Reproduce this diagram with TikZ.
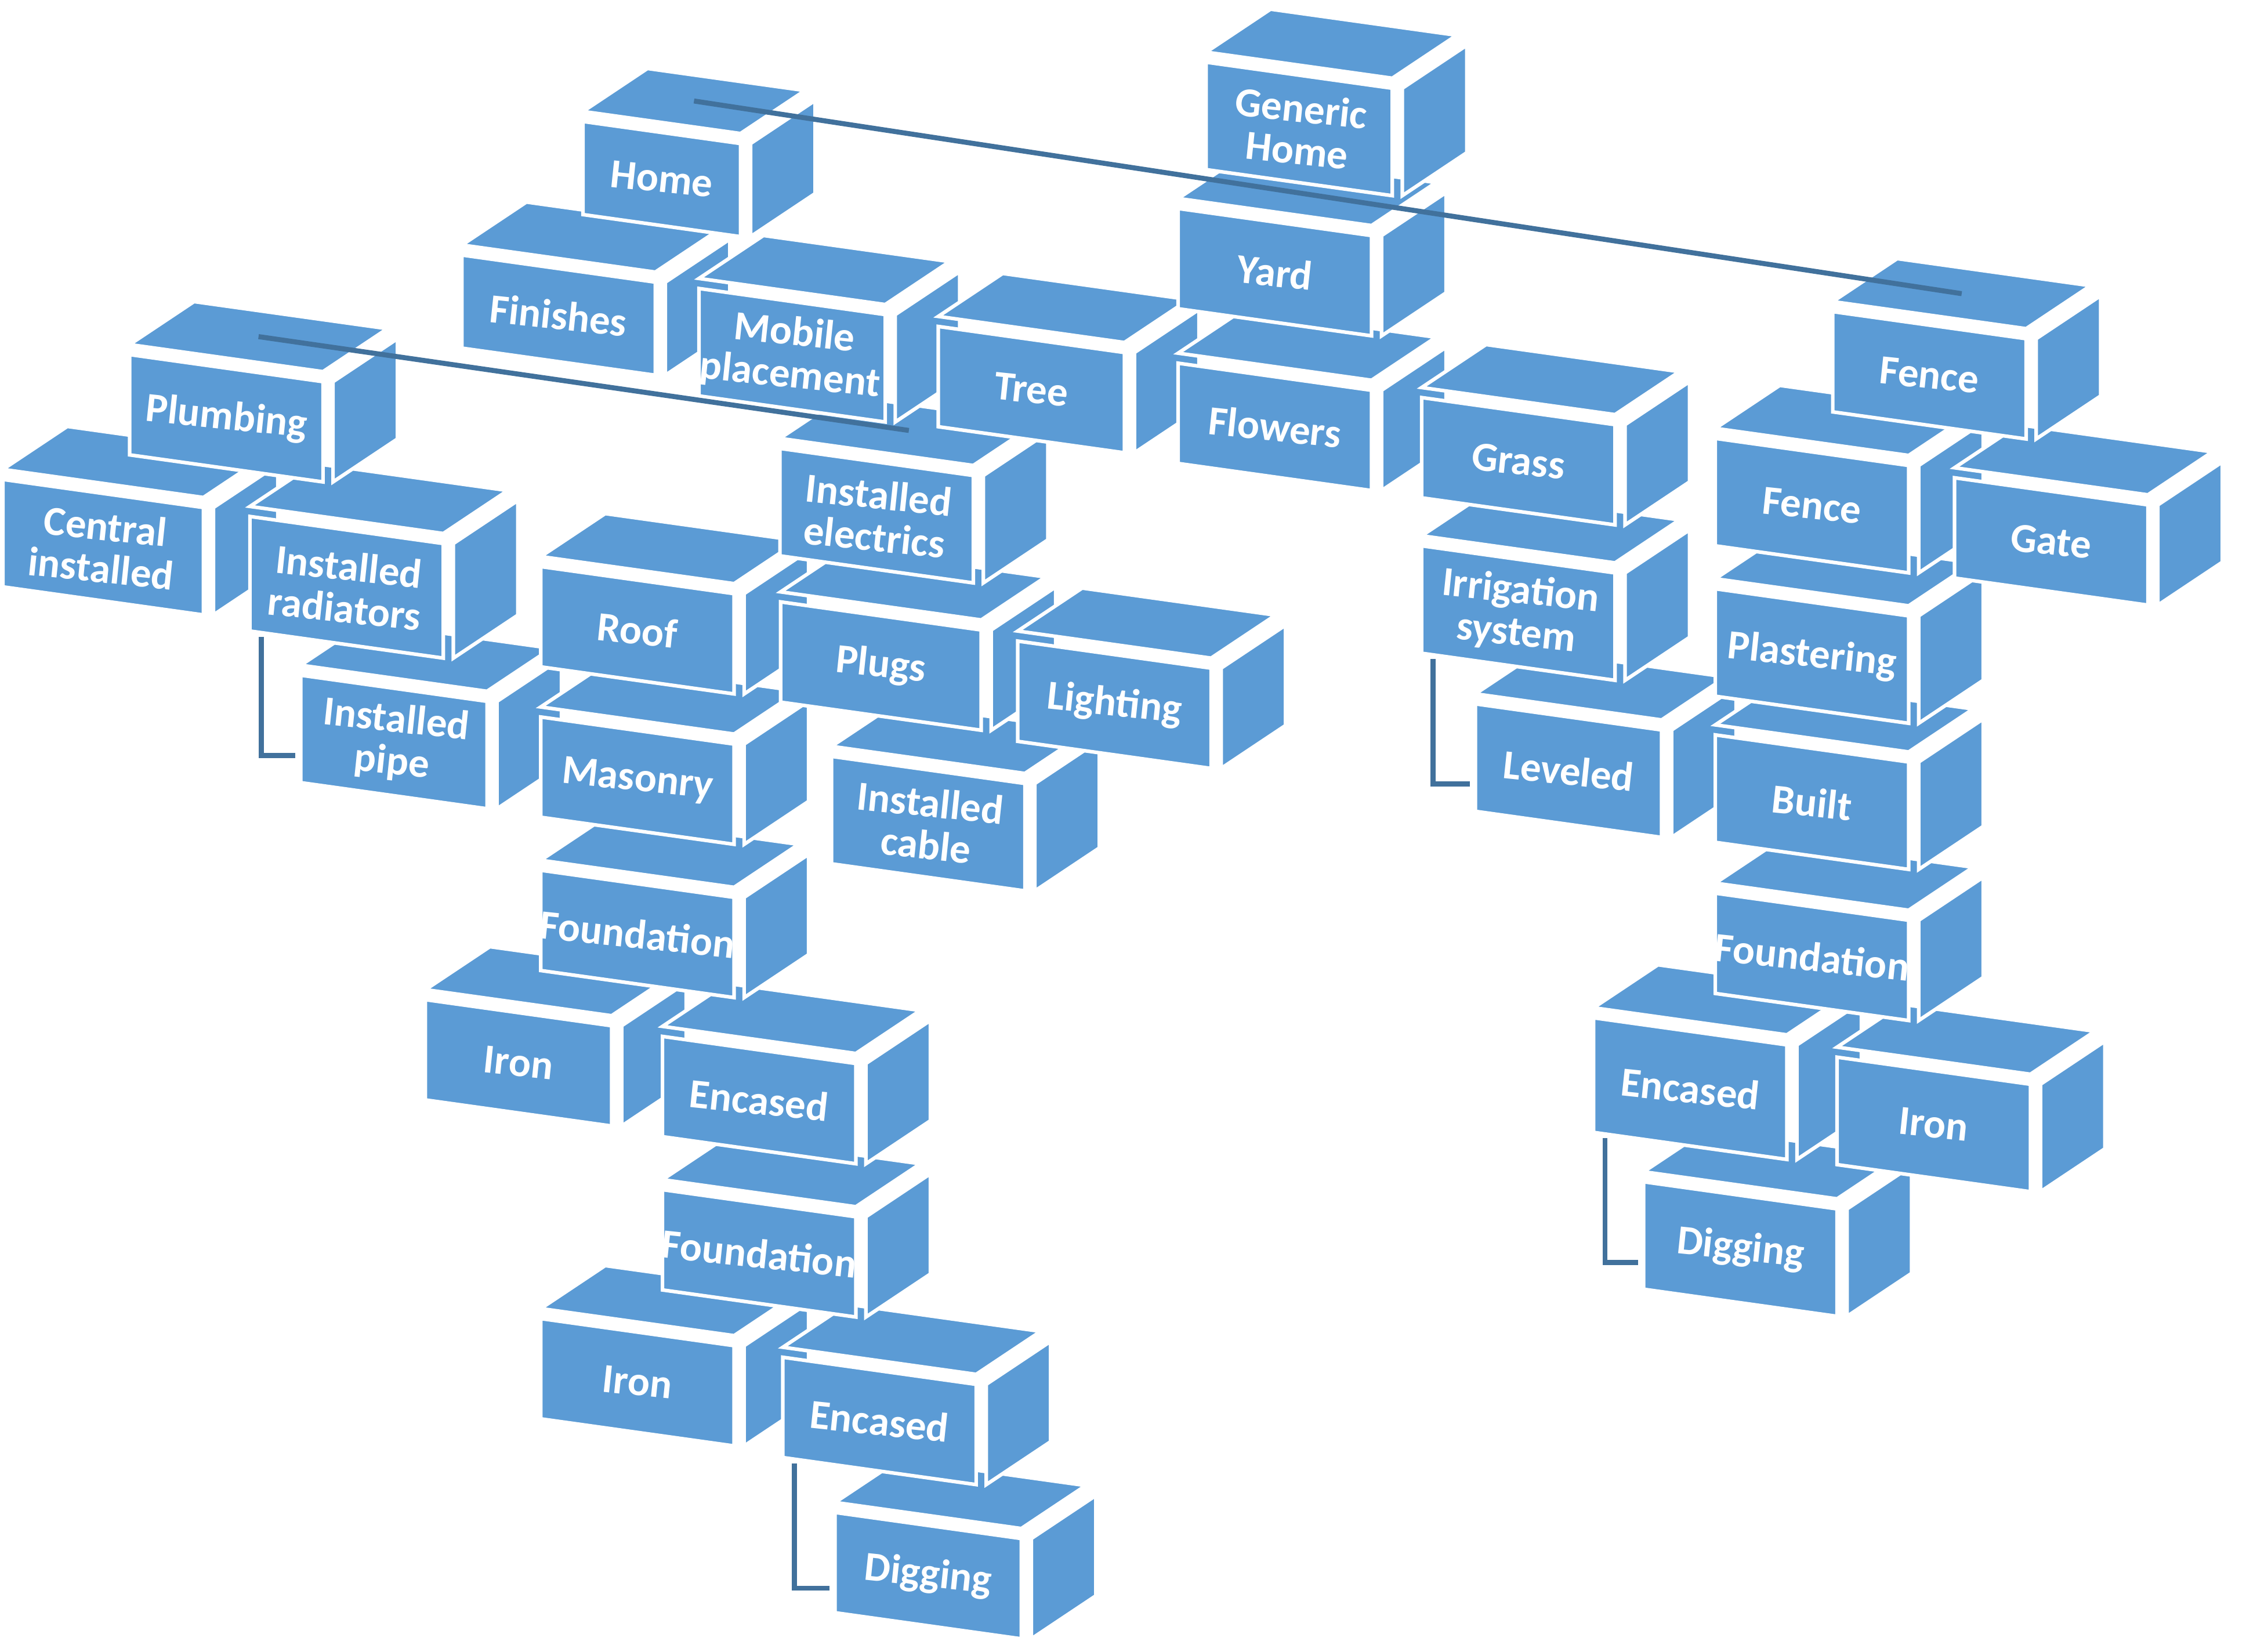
\documentclass[tikz,border=0pt]{standalone}
\usepackage{fontspec}
\setmainfont{Carlito}
\definecolor{cubeblue}{HTML}{5B9BD5}
\definecolor{linkblue}{HTML}{41719C}
\tikzset{
  face/.style={fill=cubeblue,draw=white,line width=0.25mm,line join=miter},
  lbl/.style={text=white,font=\fontsize{8.2}{8.4}\selectfont\bfseries,align=center,rotate=-6,inner sep=0pt},
  link/.style={draw=linkblue,line width=0.35mm}
}
\newcommand\cube[6]{%
 \begin{scope}[shift={(#2,#3)}]
  \pgfmathsetmacro\ca{#4/2}\pgfmathsetmacro\cb{#5/2}\pgfmathsetmacro\cs{0.07*#4}
  \def\cg{7}\def\cdx{45}\def\cdy{-30}
  \path[face] (-\ca,-\cb-\cs-\cg) -- (\ca,-\cb+\cs-\cg) -- (\ca+\cdx,-\cb+\cs-\cg+\cdy) -- (-\ca+\cdx,-\cb-\cs-\cg+\cdy) -- cycle;
  \path[face] (\ca+\cg,-\cb+\cs) -- (\ca+\cg+\cdx,-\cb+\cs+\cdy) -- (\ca+\cg+\cdx,\cb+\cs+\cdy) -- (\ca+\cg,\cb+\cs) -- cycle;
  \path[face] (-\ca,-\cb-\cs) -- (\ca,-\cb+\cs) -- (\ca,\cb+\cs) -- (-\ca,\cb-\cs) -- cycle;
  \node[lbl] (#1) at (0,0) {#6};
  \coordinate (#1-t) at (\cdx/2,-\cb-\cg+\cdy/2);
  \coordinate (#1-bl) at (-\ca+8,\cb-\cs+4);
  \coordinate (#1-w) at (-\ca-4,\cb*0.25);
 \end{scope}}
\begin{document}
\begin{tikzpicture}[x=0.1mm,y=-0.1mm]
\useasboundingbox (0,0) rectangle (1568,1153);
\cube{digB}{648}{1100}{130}{70}{Digging}
\cube{ironB}{445}{965}{135}{70}{Iron}
\cube{encB}{614}{992}{135}{70}{Encased}
\cube{foundB}{530}{875}{135}{70}{Foundation}
\cube{ironA}{362}{742}{130}{70}{Iron}
\cube{encA}{530}{768}{135}{70}{Encased}
\cube{foundA}{445}{652}{135}{70}{Foundation}
\cube{pipe}{275}{518}{130}{75}{Installed\\pipe}
\cube{central}{72}{382}{140}{75}{Central\\installed}
\cube{masonry}{445}{545}{135}{70}{Masonry}
\cube{radiators}{242}{410}{135}{80}{Installed\\radiators}
\cube{plumbing}{158}{292}{135}{70}{Plumbing}
\cube{cable}{648}{575}{135}{75}{Installed\\cable}
\cube{roof}{445}{440}{135}{70}{Roof}
\cube{digR}{1215}{872}{135}{75}{Digging}
\cube{plugs}{615}{465}{140}{70}{Plugs}
\cube{encR}{1180}{760}{135}{80}{Encased}
\cube{lighting}{778}{492}{135}{70}{Lighting}
\cube{electrics}{612}{360}{135}{75}{Installed\\electrics}
\cube{finishes}{390}{220}{135}{65}{Finishes}
\cube{ironR}{1350}{785}{135}{75}{Iron}
\cube{mobile}{553}{248}{130}{75}{Mobile\\placement}
\cube{foundR}{1265}{668}{135}{70}{Foundation}
\cube{leveled}{1095}{538}{130}{75}{Leveled}
\cube{home}{462}{125}{110}{65}{Home}
\cube{tree}{720}{272}{130}{70}{Tree}
\cube{built}{1265}{560}{135}{75}{Built}
\cube{irrigation}{1060}{428}{135}{75}{Irrigation\\system}
\cube{flowers}{890}{298}{135}{70}{Flowers}
\cube{plastering}{1265}{458}{135}{75}{Plastering}
\cube{grass}{1060}{322}{135}{70}{Grass}
\cube{yard}{890}{190}{135}{70}{Yard}
\cube{fenceb}{1265}{353}{135}{75}{Fence}
\cube{generic}{907}{90}{130}{75}{Generic\\Home}
\cube{gate}{1432}{378}{135}{70}{Gate}
\cube{fence}{1347}{262}{135}{70}{Fence}
\draw[link] (home-t) -- (fence-t);
\draw[link] (plumbing-t) -- (electrics-t);
\draw[link] (radiators-bl) |- (pipe-w);
\draw[link] (irrigation-bl) |- (leveled-w);
\draw[link] (encR-bl) |- (digR-w);
\draw[link] (encB-bl) |- (digB-w);
\end{tikzpicture}
\end{document}
